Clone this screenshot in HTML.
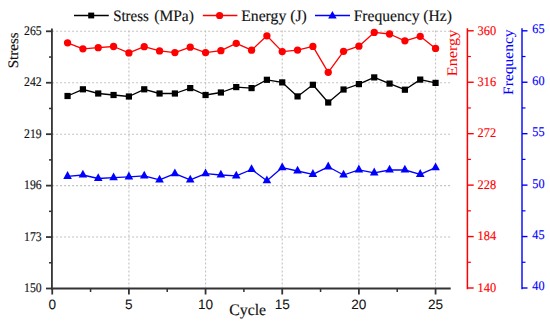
<!DOCTYPE html>
<html><head><meta charset="utf-8"><style>
html,body{margin:0;padding:0;background:#fff;width:550px;height:325px;overflow:hidden}
svg{display:block}
text{text-rendering:geometricPrecision}
</style></head><body>
<svg width="550" height="325" viewBox="0 0 550 325">
<rect width="550" height="325" fill="#fff"/>
<line x1="52.1" y1="31.30" x2="451" y2="31.30" stroke="#c2c2c2" stroke-width="1.1" stroke-dasharray="2,2"/>
<line x1="52.1" y1="82.74" x2="451" y2="82.74" stroke="#c2c2c2" stroke-width="1.1" stroke-dasharray="2,2"/>
<line x1="52.1" y1="134.18" x2="451" y2="134.18" stroke="#c2c2c2" stroke-width="1.1" stroke-dasharray="2,2"/>
<line x1="52.1" y1="185.62" x2="451" y2="185.62" stroke="#c2c2c2" stroke-width="1.1" stroke-dasharray="2,2"/>
<line x1="52.1" y1="237.06" x2="451" y2="237.06" stroke="#c2c2c2" stroke-width="1.1" stroke-dasharray="2,2"/>
<line x1="128.90" y1="30.5" x2="128.90" y2="287.5" stroke="#c2c2c2" stroke-width="1.1" stroke-dasharray="2,2"/>
<line x1="205.56" y1="30.5" x2="205.56" y2="287.5" stroke="#c2c2c2" stroke-width="1.1" stroke-dasharray="2,2"/>
<line x1="282.23" y1="30.5" x2="282.23" y2="287.5" stroke="#c2c2c2" stroke-width="1.1" stroke-dasharray="2,2"/>
<line x1="358.89" y1="30.5" x2="358.89" y2="287.5" stroke="#c2c2c2" stroke-width="1.1" stroke-dasharray="2,2"/>
<line x1="435.56" y1="30.5" x2="435.56" y2="287.5" stroke="#c2c2c2" stroke-width="1.1" stroke-dasharray="2,2"/>
<line x1="51.93" y1="28.4" x2="51.93" y2="289.4" stroke="#333" stroke-width="1.8"/>
<line x1="46" y1="31.30" x2="52.23" y2="31.30" stroke="#333" stroke-width="1.8"/>
<line x1="46" y1="82.74" x2="52.23" y2="82.74" stroke="#333" stroke-width="1.8"/>
<line x1="46" y1="134.18" x2="52.23" y2="134.18" stroke="#333" stroke-width="1.8"/>
<line x1="46" y1="185.62" x2="52.23" y2="185.62" stroke="#333" stroke-width="1.8"/>
<line x1="46" y1="237.06" x2="52.23" y2="237.06" stroke="#333" stroke-width="1.8"/>
<line x1="46" y1="288.50" x2="52.23" y2="288.50" stroke="#333" stroke-width="1.8"/>
<line x1="49" y1="57.02" x2="52.23" y2="57.02" stroke="#333" stroke-width="1.5"/>
<line x1="49" y1="108.46" x2="52.23" y2="108.46" stroke="#333" stroke-width="1.5"/>
<line x1="49" y1="159.90" x2="52.23" y2="159.90" stroke="#333" stroke-width="1.5"/>
<line x1="49" y1="211.34" x2="52.23" y2="211.34" stroke="#333" stroke-width="1.5"/>
<line x1="49" y1="262.78" x2="52.23" y2="262.78" stroke="#333" stroke-width="1.5"/>
<text x="41.70" y="34.80" text-anchor="end" font-family='"Liberation Serif", serif' font-size="13.2" fill="#111" stroke="#111" stroke-width="0.15" textLength="17.6" lengthAdjust="spacingAndGlyphs">265</text>
<text x="41.70" y="86.24" text-anchor="end" font-family='"Liberation Serif", serif' font-size="13.2" fill="#111" stroke="#111" stroke-width="0.15" textLength="17.6" lengthAdjust="spacingAndGlyphs">242</text>
<text x="41.70" y="137.68" text-anchor="end" font-family='"Liberation Serif", serif' font-size="13.2" fill="#111" stroke="#111" stroke-width="0.15" textLength="17.6" lengthAdjust="spacingAndGlyphs">219</text>
<text x="41.70" y="189.12" text-anchor="end" font-family='"Liberation Serif", serif' font-size="13.2" fill="#111" stroke="#111" stroke-width="0.15" textLength="17.6" lengthAdjust="spacingAndGlyphs">196</text>
<text x="41.70" y="240.56" text-anchor="end" font-family='"Liberation Serif", serif' font-size="13.2" fill="#111" stroke="#111" stroke-width="0.15" textLength="17.6" lengthAdjust="spacingAndGlyphs">173</text>
<text x="41.70" y="292.00" text-anchor="end" font-family='"Liberation Serif", serif' font-size="13.2" fill="#111" stroke="#111" stroke-width="0.15" textLength="17.6" lengthAdjust="spacingAndGlyphs">150</text>
<line x1="51.029999999999994" y1="288.5" x2="450.7" y2="288.5" stroke="#333" stroke-width="1.8"/>
<line x1="52.23" y1="288.5" x2="52.23" y2="294.5" stroke="#333" stroke-width="1.8"/>
<text x="52.23" y="308.90" text-anchor="middle" font-family='"Liberation Sans", sans-serif' font-size="13.6" fill="#111" stroke="#111" stroke-width="0.05">0</text>
<line x1="128.90" y1="288.5" x2="128.90" y2="294.5" stroke="#333" stroke-width="1.8"/>
<text x="128.90" y="308.90" text-anchor="middle" font-family='"Liberation Sans", sans-serif' font-size="13.6" fill="#111" stroke="#111" stroke-width="0.05">5</text>
<line x1="205.56" y1="288.5" x2="205.56" y2="294.5" stroke="#333" stroke-width="1.8"/>
<text x="205.56" y="308.90" text-anchor="middle" font-family='"Liberation Sans", sans-serif' font-size="13.6" fill="#111" stroke="#111" stroke-width="0.05">10</text>
<line x1="282.23" y1="288.5" x2="282.23" y2="294.5" stroke="#333" stroke-width="1.8"/>
<text x="282.23" y="308.90" text-anchor="middle" font-family='"Liberation Sans", sans-serif' font-size="13.6" fill="#111" stroke="#111" stroke-width="0.05">15</text>
<line x1="358.89" y1="288.5" x2="358.89" y2="294.5" stroke="#333" stroke-width="1.8"/>
<text x="358.89" y="308.90" text-anchor="middle" font-family='"Liberation Sans", sans-serif' font-size="13.6" fill="#111" stroke="#111" stroke-width="0.05">20</text>
<line x1="435.56" y1="288.5" x2="435.56" y2="294.5" stroke="#333" stroke-width="1.8"/>
<text x="435.56" y="308.90" text-anchor="middle" font-family='"Liberation Sans", sans-serif' font-size="13.6" fill="#111" stroke="#111" stroke-width="0.05">25</text>
<line x1="90.56" y1="288.5" x2="90.56" y2="292" stroke="#333" stroke-width="1.5"/>
<line x1="167.23" y1="288.5" x2="167.23" y2="292" stroke="#333" stroke-width="1.5"/>
<line x1="243.89" y1="288.5" x2="243.89" y2="292" stroke="#333" stroke-width="1.5"/>
<line x1="320.56" y1="288.5" x2="320.56" y2="292" stroke="#333" stroke-width="1.5"/>
<line x1="397.22" y1="288.5" x2="397.22" y2="292" stroke="#333" stroke-width="1.5"/>
<line x1="467.4" y1="28.2" x2="467.4" y2="289.3" stroke="#ff0000" stroke-width="1.5"/>
<line x1="467.4" y1="30.80" x2="473.7" y2="30.80" stroke="#ff0000" stroke-width="1.4"/>
<text x="477.50" y="34.60" text-anchor="start" font-family='"Liberation Serif", serif' font-size="13.3" fill="#ff0000" stroke="#ff0000" stroke-width="0.15" textLength="18.6" lengthAdjust="spacingAndGlyphs">360</text>
<line x1="467.4" y1="82.24" x2="473.7" y2="82.24" stroke="#ff0000" stroke-width="1.4"/>
<text x="477.50" y="86.04" text-anchor="start" font-family='"Liberation Serif", serif' font-size="13.3" fill="#ff0000" stroke="#ff0000" stroke-width="0.15" textLength="18.6" lengthAdjust="spacingAndGlyphs">316</text>
<line x1="467.4" y1="133.68" x2="473.7" y2="133.68" stroke="#ff0000" stroke-width="1.4"/>
<text x="477.50" y="137.48" text-anchor="start" font-family='"Liberation Serif", serif' font-size="13.3" fill="#ff0000" stroke="#ff0000" stroke-width="0.15" textLength="18.6" lengthAdjust="spacingAndGlyphs">272</text>
<line x1="467.4" y1="185.12" x2="473.7" y2="185.12" stroke="#ff0000" stroke-width="1.4"/>
<text x="477.50" y="188.92" text-anchor="start" font-family='"Liberation Serif", serif' font-size="13.3" fill="#ff0000" stroke="#ff0000" stroke-width="0.15" textLength="18.6" lengthAdjust="spacingAndGlyphs">228</text>
<line x1="467.4" y1="236.56" x2="473.7" y2="236.56" stroke="#ff0000" stroke-width="1.4"/>
<text x="477.50" y="240.36" text-anchor="start" font-family='"Liberation Serif", serif' font-size="13.3" fill="#ff0000" stroke="#ff0000" stroke-width="0.15" textLength="18.6" lengthAdjust="spacingAndGlyphs">184</text>
<line x1="467.4" y1="288.00" x2="473.7" y2="288.00" stroke="#ff0000" stroke-width="1.4"/>
<text x="477.50" y="291.80" text-anchor="start" font-family='"Liberation Serif", serif' font-size="13.3" fill="#ff0000" stroke="#ff0000" stroke-width="0.15" textLength="18.6" lengthAdjust="spacingAndGlyphs">140</text>
<line x1="467.4" y1="56.52" x2="470.9" y2="56.52" stroke="#ff0000" stroke-width="1.2"/>
<line x1="467.4" y1="107.96" x2="470.9" y2="107.96" stroke="#ff0000" stroke-width="1.2"/>
<line x1="467.4" y1="159.40" x2="470.9" y2="159.40" stroke="#ff0000" stroke-width="1.2"/>
<line x1="467.4" y1="210.84" x2="470.9" y2="210.84" stroke="#ff0000" stroke-width="1.2"/>
<line x1="467.4" y1="262.28" x2="470.9" y2="262.28" stroke="#ff0000" stroke-width="1.2"/>
<line x1="522.0" y1="28.2" x2="522.0" y2="289.3" stroke="#0000ff" stroke-width="1.4"/>
<line x1="522.0" y1="30.80" x2="527.5" y2="30.80" stroke="#0000ff" stroke-width="1.4"/>
<text x="532.30" y="33.20" text-anchor="start" font-family='"Liberation Serif", serif' font-size="13.2" fill="#0000ff" stroke="#0000ff" stroke-width="0.15" textLength="12.2" lengthAdjust="spacingAndGlyphs">65</text>
<line x1="522.0" y1="82.24" x2="527.5" y2="82.24" stroke="#0000ff" stroke-width="1.4"/>
<text x="532.30" y="84.64" text-anchor="start" font-family='"Liberation Serif", serif' font-size="13.2" fill="#0000ff" stroke="#0000ff" stroke-width="0.15" textLength="12.2" lengthAdjust="spacingAndGlyphs">60</text>
<line x1="522.0" y1="133.68" x2="527.5" y2="133.68" stroke="#0000ff" stroke-width="1.4"/>
<text x="532.30" y="136.08" text-anchor="start" font-family='"Liberation Serif", serif' font-size="13.2" fill="#0000ff" stroke="#0000ff" stroke-width="0.15" textLength="12.2" lengthAdjust="spacingAndGlyphs">55</text>
<line x1="522.0" y1="185.12" x2="527.5" y2="185.12" stroke="#0000ff" stroke-width="1.4"/>
<text x="532.30" y="187.52" text-anchor="start" font-family='"Liberation Serif", serif' font-size="13.2" fill="#0000ff" stroke="#0000ff" stroke-width="0.15" textLength="12.2" lengthAdjust="spacingAndGlyphs">50</text>
<line x1="522.0" y1="236.56" x2="527.5" y2="236.56" stroke="#0000ff" stroke-width="1.4"/>
<text x="532.30" y="238.96" text-anchor="start" font-family='"Liberation Serif", serif' font-size="13.2" fill="#0000ff" stroke="#0000ff" stroke-width="0.15" textLength="12.2" lengthAdjust="spacingAndGlyphs">45</text>
<line x1="522.0" y1="288.00" x2="527.5" y2="288.00" stroke="#0000ff" stroke-width="1.4"/>
<text x="532.30" y="290.40" text-anchor="start" font-family='"Liberation Serif", serif' font-size="13.2" fill="#0000ff" stroke="#0000ff" stroke-width="0.15" textLength="12.2" lengthAdjust="spacingAndGlyphs">40</text>
<line x1="522.0" y1="56.52" x2="525.5" y2="56.52" stroke="#0000ff" stroke-width="1.2"/>
<line x1="522.0" y1="107.96" x2="525.5" y2="107.96" stroke="#0000ff" stroke-width="1.2"/>
<line x1="522.0" y1="159.40" x2="525.5" y2="159.40" stroke="#0000ff" stroke-width="1.2"/>
<line x1="522.0" y1="210.84" x2="525.5" y2="210.84" stroke="#0000ff" stroke-width="1.2"/>
<line x1="522.0" y1="262.28" x2="525.5" y2="262.28" stroke="#0000ff" stroke-width="1.2"/>
<text transform="translate(18.2,50.3) scale(0.97,1) rotate(-90)" text-anchor="middle" font-family='"Liberation Serif", serif' font-size="15" fill="#111" stroke="#111" stroke-width="0.15">Stress</text>
<text transform="translate(457.1,53.0) scale(0.9,1) rotate(-90)" text-anchor="middle" font-family='"Liberation Serif", serif' font-size="16.2" fill="#ff0000" stroke="#ff0000" stroke-width="0.05">Energy</text>
<text transform="translate(513.0,62.2) scale(0.93,1) rotate(-90)" text-anchor="middle" font-family='"Liberation Serif", serif' font-size="15.5" fill="#0000ff" stroke="#0000ff" stroke-width="0.05">Frequency</text>
<text x="229.30" y="314.70" text-anchor="start" font-family='"Liberation Serif", serif' font-size="16" fill="#111" stroke="#111" stroke-width="0.15" textLength="36.8" lengthAdjust="spacingAndGlyphs">Cycle</text>
<polyline points="67.56,42.80 82.90,48.80 98.23,47.70 113.56,46.50 128.90,52.90 144.23,46.70 159.56,50.90 174.89,52.60 190.23,47.20 205.56,52.60 220.89,50.70 236.23,43.30 251.56,50.20 266.89,35.80 282.23,51.60 297.56,50.10 312.89,46.40 328.22,72.30 343.56,51.30 358.89,46.20 374.22,32.40 389.56,34.00 404.89,40.80 420.22,36.30 435.56,48.40" fill="none" stroke="#ff0000" stroke-width="1.3" stroke-linejoin="round"/>
<circle cx="67.56" cy="42.80" r="3.65" fill="#ff0000"/>
<circle cx="82.90" cy="48.80" r="3.65" fill="#ff0000"/>
<circle cx="98.23" cy="47.70" r="3.65" fill="#ff0000"/>
<circle cx="113.56" cy="46.50" r="3.65" fill="#ff0000"/>
<circle cx="128.90" cy="52.90" r="3.65" fill="#ff0000"/>
<circle cx="144.23" cy="46.70" r="3.65" fill="#ff0000"/>
<circle cx="159.56" cy="50.90" r="3.65" fill="#ff0000"/>
<circle cx="174.89" cy="52.60" r="3.65" fill="#ff0000"/>
<circle cx="190.23" cy="47.20" r="3.65" fill="#ff0000"/>
<circle cx="205.56" cy="52.60" r="3.65" fill="#ff0000"/>
<circle cx="220.89" cy="50.70" r="3.65" fill="#ff0000"/>
<circle cx="236.23" cy="43.30" r="3.65" fill="#ff0000"/>
<circle cx="251.56" cy="50.20" r="3.65" fill="#ff0000"/>
<circle cx="266.89" cy="35.80" r="3.65" fill="#ff0000"/>
<circle cx="282.23" cy="51.60" r="3.65" fill="#ff0000"/>
<circle cx="297.56" cy="50.10" r="3.65" fill="#ff0000"/>
<circle cx="312.89" cy="46.40" r="3.65" fill="#ff0000"/>
<circle cx="328.22" cy="72.30" r="3.65" fill="#ff0000"/>
<circle cx="343.56" cy="51.30" r="3.65" fill="#ff0000"/>
<circle cx="358.89" cy="46.20" r="3.65" fill="#ff0000"/>
<circle cx="374.22" cy="32.40" r="3.65" fill="#ff0000"/>
<circle cx="389.56" cy="34.00" r="3.65" fill="#ff0000"/>
<circle cx="404.89" cy="40.80" r="3.65" fill="#ff0000"/>
<circle cx="420.22" cy="36.30" r="3.65" fill="#ff0000"/>
<circle cx="435.56" cy="48.40" r="3.65" fill="#ff0000"/>
<polyline points="67.56,96.00 82.90,89.30 98.23,93.50 113.56,95.00 128.90,96.50 144.23,89.30 159.56,93.50 174.89,93.50 190.23,88.10 205.56,95.00 220.89,92.50 236.23,87.10 251.56,88.10 266.89,79.80 282.23,82.40 297.56,96.40 312.89,84.80 328.22,102.50 343.56,89.50 358.89,84.10 374.22,77.40 389.56,83.60 404.89,89.70 420.22,79.60 435.56,82.90" fill="none" stroke="#000000" stroke-width="1.3" stroke-linejoin="round"/>
<rect x="64.46" y="92.90" width="6.2" height="6.2" fill="#000000"/>
<rect x="79.80" y="86.20" width="6.2" height="6.2" fill="#000000"/>
<rect x="95.13" y="90.40" width="6.2" height="6.2" fill="#000000"/>
<rect x="110.46" y="91.90" width="6.2" height="6.2" fill="#000000"/>
<rect x="125.80" y="93.40" width="6.2" height="6.2" fill="#000000"/>
<rect x="141.13" y="86.20" width="6.2" height="6.2" fill="#000000"/>
<rect x="156.46" y="90.40" width="6.2" height="6.2" fill="#000000"/>
<rect x="171.79" y="90.40" width="6.2" height="6.2" fill="#000000"/>
<rect x="187.13" y="85.00" width="6.2" height="6.2" fill="#000000"/>
<rect x="202.46" y="91.90" width="6.2" height="6.2" fill="#000000"/>
<rect x="217.79" y="89.40" width="6.2" height="6.2" fill="#000000"/>
<rect x="233.13" y="84.00" width="6.2" height="6.2" fill="#000000"/>
<rect x="248.46" y="85.00" width="6.2" height="6.2" fill="#000000"/>
<rect x="263.79" y="76.70" width="6.2" height="6.2" fill="#000000"/>
<rect x="279.12" y="79.30" width="6.2" height="6.2" fill="#000000"/>
<rect x="294.46" y="93.30" width="6.2" height="6.2" fill="#000000"/>
<rect x="309.79" y="81.70" width="6.2" height="6.2" fill="#000000"/>
<rect x="325.12" y="99.40" width="6.2" height="6.2" fill="#000000"/>
<rect x="340.46" y="86.40" width="6.2" height="6.2" fill="#000000"/>
<rect x="355.79" y="81.00" width="6.2" height="6.2" fill="#000000"/>
<rect x="371.12" y="74.30" width="6.2" height="6.2" fill="#000000"/>
<rect x="386.46" y="80.50" width="6.2" height="6.2" fill="#000000"/>
<rect x="401.79" y="86.60" width="6.2" height="6.2" fill="#000000"/>
<rect x="417.12" y="76.50" width="6.2" height="6.2" fill="#000000"/>
<rect x="432.45" y="79.80" width="6.2" height="6.2" fill="#000000"/>
<polyline points="67.56,176.30 82.90,175.00 98.23,178.50 113.56,177.60 128.90,176.80 144.23,175.90 159.56,179.90 174.89,173.60 190.23,179.90 205.56,173.60 220.89,175.00 236.23,175.90 251.56,169.50 266.89,180.70 282.23,167.60 297.56,171.00 312.89,174.30 328.22,166.80 343.56,175.00 358.89,169.80 374.22,172.80 389.56,170.00 404.89,170.00 420.22,174.30 435.56,167.60" fill="none" stroke="#0000ff" stroke-width="1.3" stroke-linejoin="round"/>
<polygon points="67.56,171.10 71.86,178.90 63.26,178.90" fill="#0000ff"/>
<polygon points="82.90,169.80 87.20,177.60 78.60,177.60" fill="#0000ff"/>
<polygon points="98.23,173.30 102.53,181.10 93.93,181.10" fill="#0000ff"/>
<polygon points="113.56,172.40 117.86,180.20 109.26,180.20" fill="#0000ff"/>
<polygon points="128.90,171.60 133.20,179.40 124.60,179.40" fill="#0000ff"/>
<polygon points="144.23,170.70 148.53,178.50 139.93,178.50" fill="#0000ff"/>
<polygon points="159.56,174.70 163.86,182.50 155.26,182.50" fill="#0000ff"/>
<polygon points="174.89,168.40 179.19,176.20 170.59,176.20" fill="#0000ff"/>
<polygon points="190.23,174.70 194.53,182.50 185.93,182.50" fill="#0000ff"/>
<polygon points="205.56,168.40 209.86,176.20 201.26,176.20" fill="#0000ff"/>
<polygon points="220.89,169.80 225.19,177.60 216.59,177.60" fill="#0000ff"/>
<polygon points="236.23,170.70 240.53,178.50 231.93,178.50" fill="#0000ff"/>
<polygon points="251.56,164.30 255.86,172.10 247.26,172.10" fill="#0000ff"/>
<polygon points="266.89,175.50 271.19,183.30 262.59,183.30" fill="#0000ff"/>
<polygon points="282.23,162.40 286.53,170.20 277.93,170.20" fill="#0000ff"/>
<polygon points="297.56,165.80 301.86,173.60 293.26,173.60" fill="#0000ff"/>
<polygon points="312.89,169.10 317.19,176.90 308.59,176.90" fill="#0000ff"/>
<polygon points="328.22,161.60 332.52,169.40 323.92,169.40" fill="#0000ff"/>
<polygon points="343.56,169.80 347.86,177.60 339.26,177.60" fill="#0000ff"/>
<polygon points="358.89,164.60 363.19,172.40 354.59,172.40" fill="#0000ff"/>
<polygon points="374.22,167.60 378.52,175.40 369.92,175.40" fill="#0000ff"/>
<polygon points="389.56,164.80 393.86,172.60 385.26,172.60" fill="#0000ff"/>
<polygon points="404.89,164.80 409.19,172.60 400.59,172.60" fill="#0000ff"/>
<polygon points="420.22,169.10 424.52,176.90 415.92,176.90" fill="#0000ff"/>
<polygon points="435.56,162.40 439.86,170.20 431.25,170.20" fill="#0000ff"/>
<line x1="74" y1="15.5" x2="108.8" y2="15.5" stroke="#000" stroke-width="1.4"/>
<rect x="88.2" y="12.6" width="6" height="5.8" fill="#000"/>
<text x="113.20" y="20.70" text-anchor="start" font-family='"Liberation Serif", serif' font-size="16" fill="#111" stroke="#111" stroke-width="0.15" textLength="35.6" lengthAdjust="spacingAndGlyphs">Stress</text>
<text x="154.30" y="20.70" text-anchor="start" font-family='"Liberation Serif", serif' font-size="16" fill="#111" stroke="#111" stroke-width="0.15" textLength="39.6" lengthAdjust="spacingAndGlyphs">(MPa)</text>
<line x1="202.8" y1="15.5" x2="237.4" y2="15.5" stroke="#ff0000" stroke-width="1.4"/>
<circle cx="219.6" cy="15.5" r="3.6" fill="#ff0000"/>
<text x="241.20" y="20.70" text-anchor="start" font-family='"Liberation Serif", serif' font-size="16" fill="#111" stroke="#111" stroke-width="0.15" textLength="65.6" lengthAdjust="spacingAndGlyphs">Energy (J)</text>
<line x1="315" y1="15.5" x2="350" y2="15.5" stroke="#0000ff" stroke-width="1.4"/>
<polygon points="332.40,10.90 336.65,18.50 328.15,18.50" fill="#0000ff"/>
<text x="353.70" y="20.70" text-anchor="start" font-family='"Liberation Serif", serif' font-size="16" fill="#111" stroke="#111" stroke-width="0.15" textLength="98.2" lengthAdjust="spacingAndGlyphs">Frequency (Hz)</text>
</svg>
</body></html>
